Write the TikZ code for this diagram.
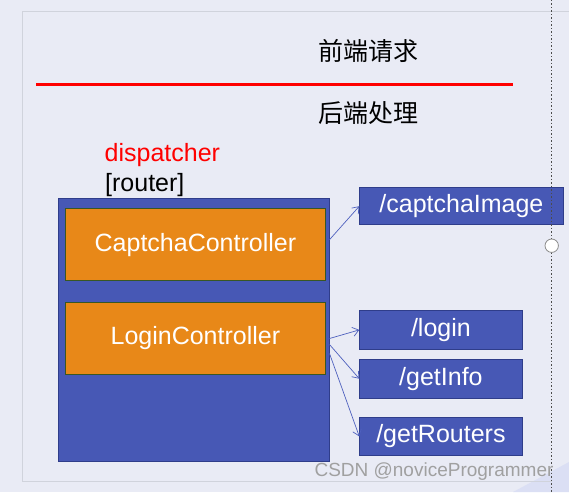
\documentclass[tikz,border=0pt]{standalone}
\usepackage{fontspec}
\setmainfont{Liberation Sans}
\newfontfamily\cjk{Noto Sans CJK SC}
\usepackage{tikz}
\usetikzlibrary{arrows.meta, positioning, calc}
\definecolor{slidebg}{RGB}{233, 235, 245}
\definecolor{framecolor}{RGB}{208, 211, 220}
\definecolor{cornerbg}{RGB}{219, 223, 244}
\definecolor{routerblue}{RGB}{71, 88, 181}
\definecolor{routerdraw}{RGB}{47, 61, 138}
\definecolor{ctrlorange}{RGB}{232, 136, 24}
\definecolor{ctrldraw}{RGB}{56, 87, 35}
\definecolor{arrowblue}{RGB}{78, 96, 190}
\definecolor{markgray}{RGB}{160, 160, 160}

\begin{document}
\begin{tikzpicture}[
    x=1pt, y=-1pt,
    bigfont/.style={font=\fontsize{25}{30}\selectfont},
    cjkfont/.style={font=\cjk\fontsize{25}{30}\selectfont},
    routerbox/.style={rectangle, draw=routerdraw, fill=routerblue, line width=0.8pt, minimum width=270.4pt, minimum height=262.4pt, inner sep=0pt, anchor=north west},
    ctrlblock/.style={rectangle, draw=ctrldraw, fill=ctrlorange, line width=0.8pt, minimum width=259.4pt, minimum height=72pt, inner sep=0pt, text=white, bigfont},
    urlblock/.style={rectangle, draw=routerdraw, fill=routerblue, line width=0.8pt, minimum width=162.4pt, minimum height=38.4pt, inner sep=0pt, text=white, bigfont},
    arrow/.style={-{Straight Barb[length=6pt,width=9pt]}, arrowblue, line width=0.7pt},
]

% ============ SLIDE BACKGROUND ============
\useasboundingbox (0,0) rectangle (569,492);
\fill[slidebg] (0,0) rectangle (569,492);
\fill[cornerbg] (513,492) -- (569,462) -- (569,492) -- cycle;
\draw[framecolor, line width=0.8pt] (569,11) -- (22.3,11) -- (22.3,481.7) -- (551.7,481.7);

% ============ FRONT / BACK ============
\node[cjkfont] (front) at (368,51) {前端请求};
\draw[red, line width=3pt] (36,85) -- (513,85);
\node[cjkfont] (back) at (368,113) {后端处理};

% ============ DISPATCHER ============
\node[bigfont, text=red, inner sep=0pt, anchor=base west] (dispatcher) at (104.5,161) {dispatcher};
\node[bigfont, inner sep=0pt, anchor=base west] (router) at (105,191.5) {[router]};

% Router container
\node[routerbox] (routerframe) at (58.3,198.3) {};

% Controllers
\node[ctrlblock, anchor=north west] (captcha) at (65.3,208.3) {CaptchaController};
\node[ctrlblock, below=21pt of captcha] (login) {LoginController};

% ============ URLS ============
\node[urlblock, minimum width=203.4pt, minimum height=37pt, anchor=north west] (captchaimg) at (359.3,187.3) {/captchaImage};
\node[urlblock, anchor=north west] (loginurl) at (359.3,310.3) {/login};
\node[urlblock, below=9.6pt of loginurl] (getinfo) {/getInfo};
\node[urlblock, below=18.6pt of getinfo] (getrouters) {/getRouters};

% ============ ARROWS ============
\draw[arrow] ([xshift=4pt,yshift=5pt]captcha.east) -- (captchaimg.west);
\draw[arrow] ([xshift=4pt]login.east) -- (loginurl.west);
\draw[arrow] ([xshift=4pt,yshift=-6pt]login.east) -- (getinfo.west);
\draw[arrow] ([xshift=4pt,yshift=-15pt]login.east) -- (getrouters.west);

% ============ EDITOR MARKS ============
\draw[black!70, dash pattern=on 1.5pt off 2pt, line width=0.7pt] (551.7,0) -- (551.7,492);
\node[circle, draw=black!45, fill=white, minimum size=13.4pt, inner sep=0pt, line width=0.8pt] (handle) at (551.7,245.7) {};

% Watermark
\node[text=markgray, font=\fontsize{19}{22}\selectfont] (mark) at (434,472) {CSDN @noviceProgrammer};

\end{tikzpicture}
\end{document}
